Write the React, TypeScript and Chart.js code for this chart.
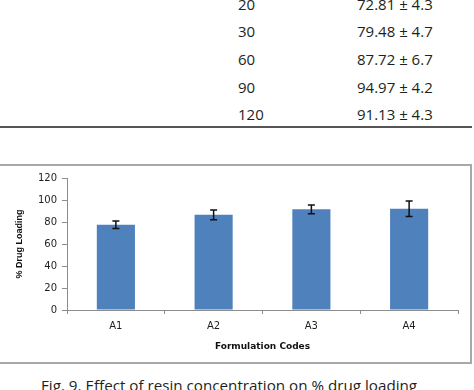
import React, { useEffect, useRef } from "react";
import { Chart, registerables } from "chart.js";

Chart.register(...registerables);

const categories = ["A1", "A2", "A3", "A4"];
const drugLoading = [77.5, 86.5, 91.5, 92];
const errors = [3.5, 4.5, 4, 7];
const yTicks = [0, 20, 40, 60, 80, 100, 120];

const tableTimes = ["20", "30", "60", "90", "120"];
const tableValues = ["72.81 ± 4.3", "79.48 ± 4.7", "87.72 ± 6.7", "94.97 ± 4.2", "91.13 ± 4.3"];
const tableRowCenters = [4, 31.7, 59.3, 87, 114.6];

const errorBarPlugin = {
  id: "errorBars",
  afterDatasetsDraw(chart: any) {
    const ctx = chart.ctx;
    const meta = chart.getDatasetMeta(0);
    const yScale = chart.scales.y;
    ctx.save();
    ctx.strokeStyle = "#111";
    ctx.lineWidth = 1.5;
    meta.data.forEach((bar: any, i: number) => {
      const x = bar.x;
      const top = yScale.getPixelForValue(drugLoading[i] + errors[i]);
      const bot = yScale.getPixelForValue(drugLoading[i] - errors[i]);
      ctx.beginPath();
      ctx.moveTo(x, top);
      ctx.lineTo(x, bot);
      ctx.moveTo(x - 3.5, top);
      ctx.lineTo(x + 3.5, top);
      ctx.moveTo(x - 3.5, bot);
      ctx.lineTo(x + 3.5, bot);
      ctx.stroke();
    });
    ctx.restore();
  },
};

function BarChart() {
  const ref = useRef<HTMLCanvasElement | null>(null);
  useEffect(() => {
    if (!ref.current) return;
    const chart = new Chart(ref.current, {
      type: "bar",
      data: {
        labels: categories,
        datasets: [
          {
            data: drugLoading,
            backgroundColor: "#4F81BD",
            borderWidth: 0,
            barPercentage: 0.39,
            categoryPercentage: 1,
          },
        ],
      },
      options: {
        responsive: false,
        animation: false,
        layout: { padding: { top: 12, right: 10, bottom: 0, left: 0 } },
        plugins: { legend: { display: false }, tooltip: { enabled: false } },
        scales: {
          x: {
            afterFit: (s: any) => {
              s.height = 52;
            },
            grid: { drawOnChartArea: false, drawTicks: true, tickLength: 4, color: "#8c8c8c", offset: true },
            border: { display: true, color: "#8c8c8c", width: 1 },
            ticks: { padding: 6, color: "#1f1f1f", font: { family: "DejaVu Sans", size: 10 } },
            title: {
              display: true,
              text: "Formulation Codes",
              color: "#111",
              font: { family: "DejaVu Sans", size: 9, weight: "bold" },
              padding: { top: 0, bottom: 10 },
            },
          },
          y: {
            min: 0,
            max: 120,
            afterFit: (s: any) => {
              s.width = 67;
            },
            afterBuildTicks: (s: any) => {
              s.ticks = yTicks.map((v) => ({ value: v }));
            },
            grid: { drawOnChartArea: false, drawTicks: true, tickLength: 5, color: "#8c8c8c" },
            border: { display: true, color: "#8c8c8c", width: 1 },
            ticks: { padding: 5, color: "#1f1f1f", font: { family: "DejaVu Sans", size: 10 } },
            title: {
              display: true,
              text: "% Drug Loading",
              color: "#111",
              font: { family: "Liberation Sans", size: 9, weight: "bold" },
              padding: { top: 14, bottom: 0 },
            },
          },
        },
      },
      plugins: [errorBarPlugin],
    });
    return () => chart.destroy();
  }, []);
  return <canvas ref={ref} width={468} height={196} style={{ width: 468, height: 196, display: "block" }} />;
}

export default function App() {
  const textFont = "'Open Sans', sans-serif";
  return (
    <div
      style={{
        position: "absolute",
        left: 0,
        top: 0,
        width: 474,
        height: 390,
        overflow: "hidden",
        background: "#fff",
      }}
    >
      {tableTimes.map((t, i) => (
        <div
          key={"t" + i}
          style={{
            position: "absolute",
            left: 238,
            top: tableRowCenters[i] - 10.5,
            fontFamily: textFont,
            fontSize: 15,
            lineHeight: "20px",
            color: "#231f20",
            whiteSpace: "nowrap",
          }}
        >
          {t}
        </div>
      ))}
      {tableValues.map((t, i) => (
        <div
          key={"v" + i}
          style={{
            position: "absolute",
            left: 357,
            top: tableRowCenters[i] - 10.5,
            fontFamily: textFont,
            fontSize: 15,
            lineHeight: "20px",
            color: "#231f20",
            whiteSpace: "nowrap",
          }}
        >
          {t}
        </div>
      ))}
      <div style={{ position: "absolute", left: 0, top: 126, width: 472, height: 2, background: "#555" }} />
      <div
        style={{
          position: "absolute",
          left: -4,
          top: 164,
          width: 476,
          height: 200,
          boxSizing: "border-box",
          border: "2px solid #a8a8a8",
        }}
      />
      <div style={{ position: "absolute", left: 0, top: 166 }}>
        <BarChart />
      </div>
      <div
        style={{
          position: "absolute",
          left: 41,
          top: 375,
          fontFamily: textFont,
          fontSize: 15.2,
          lineHeight: "20px",
          color: "#231f20",
          whiteSpace: "nowrap",
        }}
      >
        Fig. 9. Effect of resin concentration on % drug loading
      </div>
    </div>
  );
}
